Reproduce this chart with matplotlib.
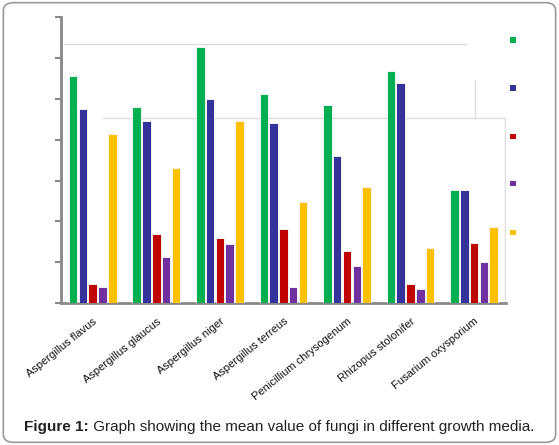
import matplotlib
matplotlib.use("Agg")
import matplotlib.pyplot as plt
import numpy as np
from matplotlib.patches import FancyBboxPatch, Rectangle

plt.rcParams['font.family'] = ['Liberation Sans', 'DejaVu Sans']

categories = ["Aspergillus flavus", "Aspergillus glaucus", "Aspergillus niger",
              "Aspergillus terreus", "Penicillium chrysogenum", "Rhizopus stolonifer",
              "Fusarium oxysporium"]
series_green = [5.56, 4.80, 6.27, 5.12, 4.85, 5.69, 2.76]
series_blue = [4.75, 4.45, 5.01, 4.41, 3.60, 5.38, 2.76]
series_red = [0.47, 1.70, 1.59, 1.81, 1.27, 0.47, 1.48]
series_purple = [0.39, 1.13, 1.44, 0.39, 0.91, 0.35, 1.01]
series_yellow = [4.15, 3.30, 4.45, 2.48, 2.84, 1.36, 1.87]
series = [series_green, series_blue, series_red, series_purple, series_yellow]
colors = ["#00B050", "#333399", "#C00000", "#7030A0", "#FFC000"]

W, H = 559, 445
fig = plt.figure(figsize=(W / 100, H / 100), dpi=100)
ax = fig.add_axes([0.109, 0.319, 0.796, 0.642])

x = np.arange(len(categories))
step = 0.154
width = 0.134
for i, (vals, c) in enumerate(zip(series, colors)):
    ax.bar(x + (i - 2) * step, vals, width=width, color=c,
           edgecolor="#f2f2f2", linewidth=0.7, zorder=3)

ax.set_xlim(-0.5, 6.5)
ax.set_ylim(0, 7)
ax.set_yticks(range(0, 8))
ax.set_yticklabels([])
ax.tick_params(axis='y', direction='out', length=4, width=1.5, color="#888888")
ax.set_xticks(x)
ax.set_xticklabels(categories, rotation=39, ha='right', rotation_mode='anchor',
                   fontsize=8, color="#111111")
ax.tick_params(axis='x', length=0, pad=9.5)
for s in ['top', 'right']:
    ax.spines[s].set_visible(False)
for s in ['left', 'bottom']:
    ax.spines[s].set_color("#888888")
    ax.spines[s].set_linewidth(2)

# faint artifact lines from the original rendering
art = dict(color="#dcdcdc", linewidth=1, zorder=1)
ax.plot([-0.45, 5.87], [6.35, 6.35], **art)
ax.plot([0.16, 6.48], [4.53, 4.53], **art)
ax.plot([6.48, 6.48], [0, 4.53], **art)
ax.plot([6.01, 6.01], [4.53, 5.44], **art)

# legend markers (no text)
for i, c in enumerate(colors):
    cy_px = 40 + i * 48
    fig.add_artist(Rectangle((510 / W, 1 - (cy_px + 2.5) / H), 6 / W, 5 / H,
                             facecolor=c, edgecolor="none",
                             transform=fig.transFigure))

# border
fig.add_artist(FancyBboxPatch((0.006, 0.006), 0.988, 0.988,
                              boxstyle="round,pad=0,rounding_size=0.018",
                              transform=fig.transFigure, fill=False,
                              edgecolor="#999999", linewidth=1.2))

# caption
fig.canvas.draw()
renderer = fig.canvas.get_renderer()
cy = 1 - 427 / H
t1 = fig.text(24 / W, cy, "Figure 1:", fontsize=11, fontweight='bold',
              color="#222222", va='center', ha='left')
bb = t1.get_window_extent(renderer=renderer)
x2 = bb.x1 / fig.bbox.width
fig.text(x2, cy, " Graph showing the mean value of fungi in different growth media.",
         fontsize=11, color="#222222", va='center', ha='left')

fig.savefig("out.png", dpi=100)
